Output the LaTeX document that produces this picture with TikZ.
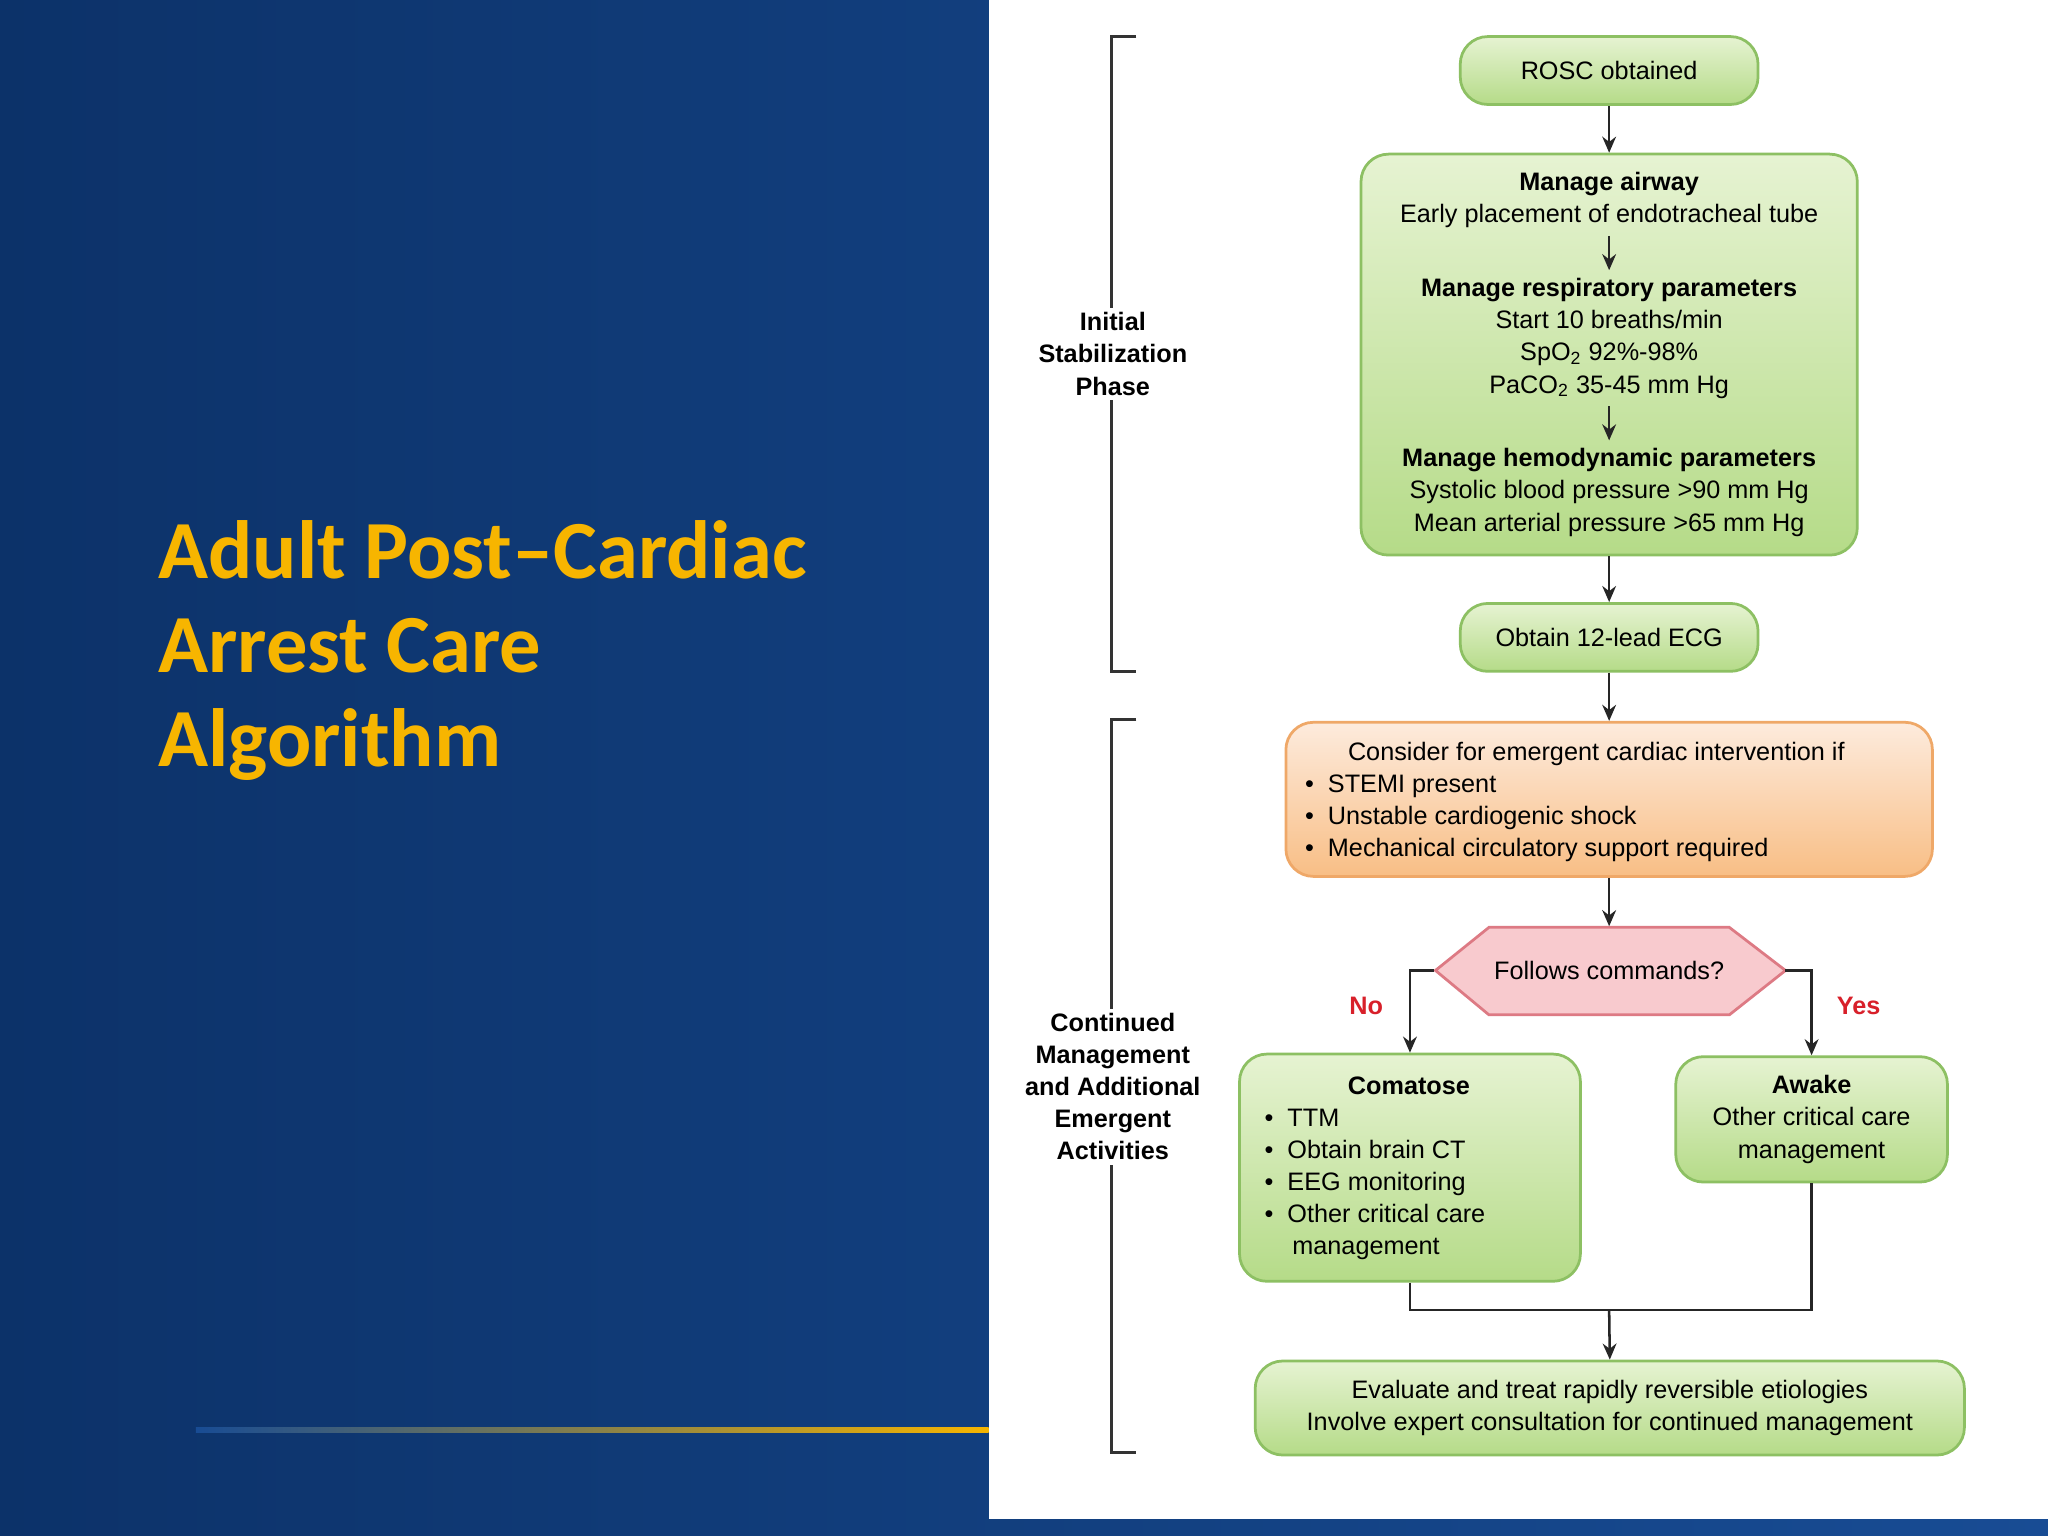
\documentclass[tikz,border=0pt]{standalone}
\usepackage{fontspec}
\setmainfont{Liberation Sans}
\newfontfamily\titlefont{Carlito}
\usetikzlibrary{arrows.meta,calc}
\definecolor{gold}{HTML}{F7B500}
\definecolor{gfill1}{HTML}{E6F3D2}
\definecolor{gfill2}{HTML}{B5DB88}
\definecolor{gline}{HTML}{8DC063}
\definecolor{ofill1}{HTML}{FDEBDD}
\definecolor{ofill2}{HTML}{F8BE85}
\definecolor{oline}{HTML}{EFA868}
\definecolor{hfill}{HTML}{F8CACE}
\definecolor{hline}{HTML}{DD7A84}
\definecolor{nored}{HTML}{D8202A}
\definecolor{bgdark}{RGB}{12,50,105}
\definecolor{bgmid}{RGB}{24,76,148}
\tikzset{
 gbox/.style={rounded corners=12pt,draw=gline,line width=1.2pt,top color=gfill1,bottom color=gfill2,inner sep=0pt,align=center,font=\fontsize{11}{14}\selectfont},
 obox/.style={rounded corners=12pt,draw=oline,line width=1.2pt,top color=ofill1,bottom color=ofill2,inner sep=0pt,font=\fontsize{11}{14}\selectfont},
 arr/.style={-{Stealth[length=7pt,width=6pt]},line width=1.1pt,black!85},
 ln/.style={line width=1.1pt,black!85},
 brk/.style={line width=1.1pt,black!80},
 phase/.style={fill=white,align=center,font=\bfseries\fontsize{11}{14}\selectfont,inner sep=2pt},
}
\begin{document}
\begin{tikzpicture}[x=0.02cm,y=-0.02cm]
\useasboundingbox (0,0) rectangle (1568,1176);
\shade[left color=bgdark,right color=bgmid] (0,0) rectangle (1568,1176);
\shade[left color=bgmid,right color=gold] (150,1093) rectangle (757,1097);
\fill[white] (757,0) rectangle (1568,1163);
% title
\node[anchor=north west,align=left,text=gold,font=\titlefont\bfseries\fontsize{36}{41}\selectfont] (title) at (115,392) {Adult Post–Cardiac\\Arrest Care\\Algorithm};
% brackets
\draw[brk] (870,28) -| (851,514) -- (870,514);
\node[phase] (p1) at (852,271) {Initial\\Stabilization\\Phase};
\draw[brk] (870,551) -| (851,1112) -- (870,1112);
\node[phase] (p2) at (852,832) {Continued\\Management\\and Additional\\Emergent\\Activities};
% nodes
\node[gbox,minimum width=228*0.02cm,minimum height=52*0.02cm] (rosc) at (1232,54) {ROSC obtained};
\node[gbox,minimum width=380*0.02cm,minimum height=307*0.02cm] (manage) at (1232,271.5) {};
\node[align=center,font=\fontsize{11}{14}\selectfont] (m1) at (1232,153) {\textbf{Manage airway}\\Early placement of endotracheal tube};
\node[align=center,font=\fontsize{11}{14}\selectfont] (m2) at (1232,259) {\textbf{Manage respiratory parameters}\\Start 10 breaths/min\\SpO\textsubscript{2} 92\%-98\%\\PaCO\textsubscript{2} 35-45 mm Hg};
\node[align=center,font=\fontsize{11}{14}\selectfont] (m3) at (1232,377) {\textbf{Manage hemodynamic parameters}\\Systolic blood pressure >90 mm Hg\\Mean arterial pressure >65 mm Hg};
\draw[arr] (m1.south) -- (m2.north);
\draw[arr] (m2.south) -- (m3.north);
\node[gbox,minimum width=228*0.02cm,minimum height=52*0.02cm] (ecg) at (1232,488) {Obtain 12-lead ECG};
\node[obox,minimum width=495*0.02cm,minimum height=118*0.02cm] (orange) at (1232,612) {};
\node[align=left,font=\fontsize{11}{14}\selectfont,anchor=north west] (otext) at (993,562) {\hspace*{1.7em}Consider for emergent cardiac intervention if\\ \textbullet\ \ STEMI present\\ \textbullet\ \ Unstable cardiogenic shock\\ \textbullet\ \ Mechanical circulatory support required};
\draw[draw=hline,line width=1.2pt,fill=hfill] (1099,743)--(1140,710)--(1324,710)--(1367,743)--(1324,777)--(1140,777)--cycle;
\node[minimum width=268*0.02cm,minimum height=67*0.02cm,font=\fontsize{11}{14}\selectfont] (hex) at (1232,743) {Follows commands?};
\node[gbox,minimum width=261*0.02cm,minimum height=174*0.02cm] (coma) at (1079.5,894) {};
\node[align=left,anchor=north west,font=\fontsize{11}{14}\selectfont] (ctext) at (962,818) {\hspace*{3.3em}\textbf{Comatose}\\\textbullet\ \ TTM\\\textbullet\ \ Obtain brain CT\\\textbullet\ \ EEG monitoring\\\textbullet\ \ Other critical care\\\hspace*{1.1em}management};
\node[gbox,minimum width=208*0.02cm,minimum height=96*0.02cm] (awake) at (1387,857) {\textbf{Awake}\\Other critical care\\management};
\node[gbox,minimum width=543*0.02cm,minimum height=72*0.02cm] (eval) at (1232.5,1078) {Evaluate and treat rapidly reversible etiologies\\Involve expert consultation for continued management};
% connectors
\draw[arr] (rosc) -- (manage);
\draw[arr] (manage) -- (ecg);
\draw[arr] (ecg) -- (orange);
\draw[arr] (orange) -- (hex);
\draw[arr] (hex.west) -| (coma.north);
\draw[arr] (hex.east) -| (awake.north);
\node[text=nored,font=\bfseries\fontsize{11}{14}\selectfont] (no) at (1046,770) {No};
\node[text=nored,font=\bfseries\fontsize{11}{14}\selectfont] (yes) at (1423,770) {Yes};
\coordinate (j) at (1232,1003);
\draw[ln] (coma.south) |- (j) -| (awake.south);
\draw[arr] (j) -- (eval.north);
\end{tikzpicture}
\end{document}
